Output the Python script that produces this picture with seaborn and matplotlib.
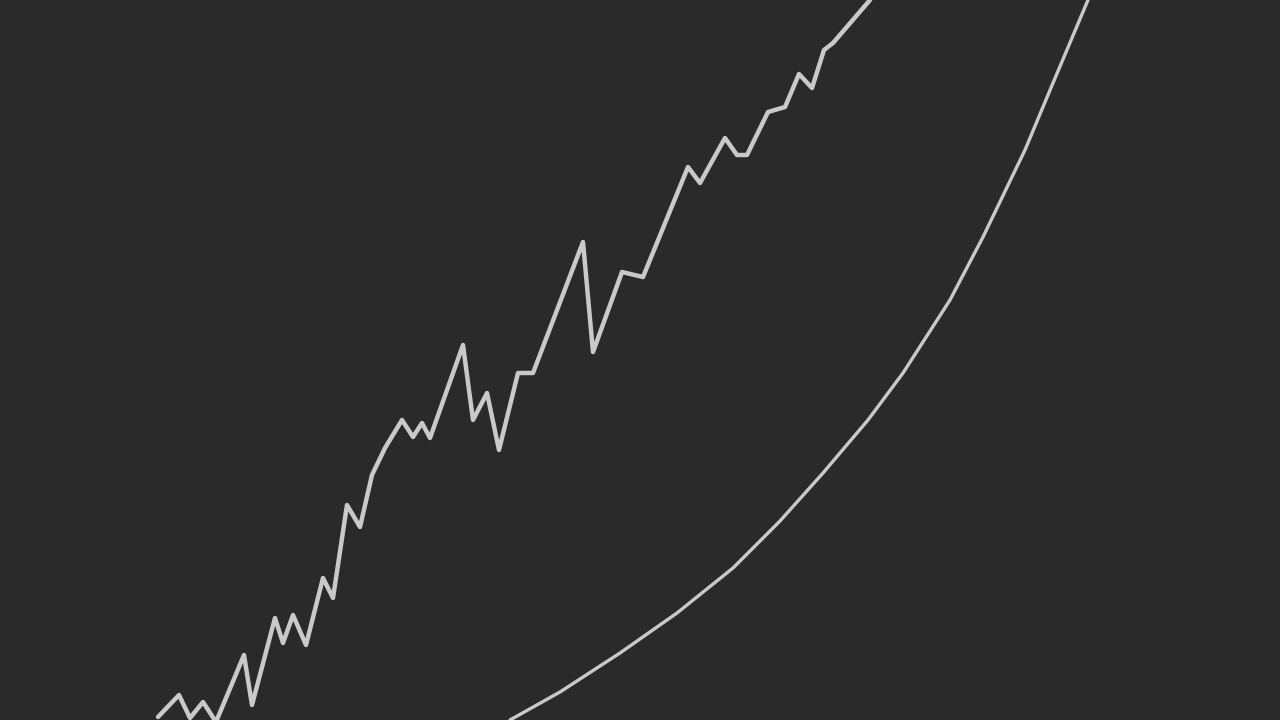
import numpy as np
import pandas as pd
import matplotlib
matplotlib.use("Agg")
import matplotlib.pyplot as plt
import seaborn as sns

# jagged series (x position, value)
jag_x = [158, 179, 190, 203, 216, 244, 252, 275, 283, 293, 306, 323, 333, 347, 360,
         372, 385, 402, 413, 422, 430, 463, 473, 487, 499, 518, 533, 583, 593, 622,
         643, 688, 700, 725, 737, 747, 768, 785, 799, 812, 824, 833, 870]
jag_y = [3, 25, 2, 18, -2, 65, 15, 102, 77, 105, 75, 142, 122, 215, 193,
         245, 272, 300, 283, 297, 282, 375, 300, 327, 270, 347, 347, 478, 368, 448,
         443, 553, 537, 582, 565, 565, 608, 613, 646, 632, 670, 677, 720]

# smooth curve
curve_x = [510, 560, 620, 677, 733, 780, 823, 868, 903, 950, 983, 1025, 1053, 1088]
curve_y = [0, 28, 67, 107, 152, 199, 247, 300, 347, 420, 483, 570, 637, 720]

bg = "#2b2a2b"
line_col = "#c9c9c9"

sns.set_theme(style="dark", rc={"axes.facecolor": bg, "figure.facecolor": bg})

jag = pd.DataFrame({"x": jag_x, "y": jag_y})
smooth = pd.DataFrame({"x": curve_x, "y": curve_y})

fig = plt.figure(figsize=(12.8, 7.2), dpi=100)
ax = fig.add_axes([0, 0, 1, 1])

sns.lineplot(data=jag, x="x", y="y", ax=ax, sort=False, estimator=None,
             color=line_col, linewidth=3.2)
sns.lineplot(data=smooth, x="x", y="y", ax=ax, sort=False, estimator=None,
             color=line_col, linewidth=2.4)

ax.set_xlim(0, 1280)
ax.set_ylim(0, 720)
ax.set_axis_off()

fig.savefig("out.png", dpi=100, facecolor=bg)
